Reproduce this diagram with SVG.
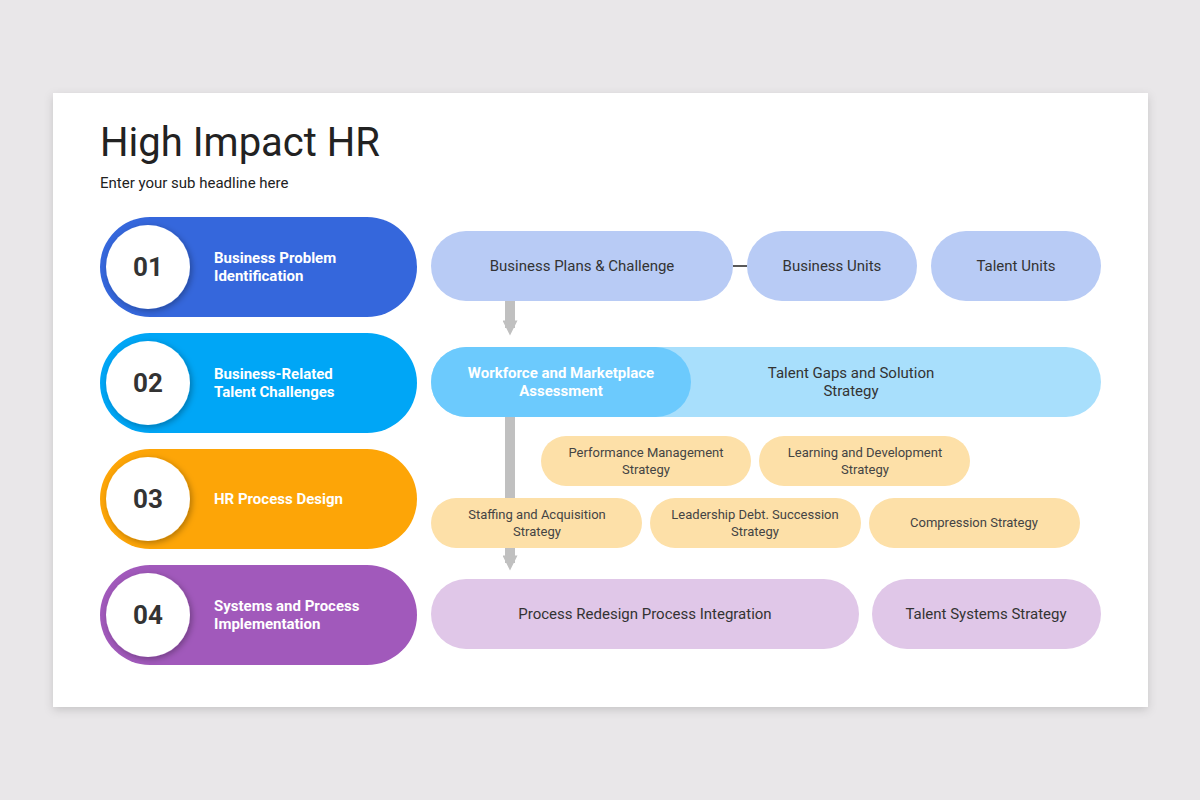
<svg xmlns="http://www.w3.org/2000/svg" width="1200" height="800" viewBox="0 0 1200 800">
<defs>
<filter id="sh" x="-10%" y="-10%" width="120%" height="130%"><feDropShadow dx="0" dy="3" stdDeviation="5" flood-color="#000" flood-opacity="0.15"/></filter>
<filter id="cs" x="-30%" y="-30%" width="160%" height="160%"><feDropShadow dx="2" dy="2" stdDeviation="3" flood-color="#000" flood-opacity="0.3"/></filter>
<marker id="ah" viewBox="0 0 10 10" refX="5" refY="5" markerWidth="2" markerHeight="1.5" orient="auto" markerUnits="strokeWidth"><path d="M0,0 L10,5 L0,10z" fill="#c0c0c0"/></marker>
</defs>
<style>
text{font-family:Roboto,"Liberation Sans",sans-serif}
.num{font-size:26px;font-weight:bold;fill:#333;text-anchor:middle}
.lab{font-size:15px;font-weight:bold;fill:#fff}
.t{font-size:15px;fill:#333;text-anchor:middle}
.s{font-size:13px;fill:#444;text-anchor:middle}
.y{fill:#fde0a8}
</style>
<rect width="1200" height="800" fill="#e9e7e9"/>
<rect x="53" y="93" width="1095" height="614" fill="#fff" filter="url(#sh)"/>
<text x="100" y="156" font-size="40" fill="#222">High Impact HR</text>
<text x="100" y="188" font-size="15" fill="#222">Enter your sub headline here</text>

<g id="connectors">
<line x1="733" y1="266" x2="747" y2="266" stroke="#222" stroke-width="1.5"/>
<line x1="510" y1="301" x2="510" y2="328" stroke="#c0c0c0" stroke-width="10" marker-end="url(#ah)"/>
<line x1="510" y1="417" x2="510" y2="563" stroke="#c0c0c0" stroke-width="10" marker-end="url(#ah)"/>
</g>

<g id="step1">
<rect x="100" y="217" width="317" height="100" rx="50" fill="#3567dc"/>
<circle cx="148" cy="267" r="42" fill="#fff" filter="url(#cs)"/>
<text class="num" x="148" y="276">01</text>
<text class="lab" x="214" y="263">Business Problem</text>
<text class="lab" x="214" y="281">Identification</text>
</g>
<g id="step2">
<rect x="100" y="333" width="317" height="100" rx="50" fill="#00a6f6"/>
<circle cx="148" cy="383" r="42" fill="#fff" filter="url(#cs)"/>
<text class="num" x="148" y="392">02</text>
<text class="lab" x="214" y="379">Business-Related</text>
<text class="lab" x="214" y="397">Talent Challenges</text>
</g>
<g id="step3">
<rect x="100" y="449" width="317" height="100" rx="50" fill="#fda507"/>
<circle cx="148" cy="499" r="42" fill="#fff" filter="url(#cs)"/>
<text class="num" x="148" y="508">03</text>
<text class="lab" x="214" y="504">HR Process Design</text>
</g>
<g id="step4">
<rect x="100" y="565" width="317" height="100" rx="50" fill="#a159bb"/>
<circle cx="148" cy="615" r="42" fill="#fff" filter="url(#cs)"/>
<text class="num" x="148" y="624">04</text>
<text class="lab" x="214" y="611">Systems and Process</text>
<text class="lab" x="214" y="629">Implementation</text>
</g>

<g id="plans"><rect x="431" y="231" width="302" height="70" rx="35" fill="#b8cbf5"/><text class="t" x="582" y="271">Business Plans &amp; Challenge</text></g>
<g id="units"><rect x="747" y="231" width="170" height="70" rx="35" fill="#b8cbf5"/><text class="t" x="832" y="271">Business Units</text></g>
<g id="talentunits"><rect x="931" y="231" width="170" height="70" rx="35" fill="#b8cbf5"/><text class="t" x="1016" y="271">Talent Units</text></g>

<g id="gaps"><rect x="431" y="347" width="670" height="70" rx="35" fill="#a8dffc"/><text class="t" x="851" y="378">Talent Gaps and Solution</text><text class="t" x="851" y="396">Strategy</text></g>
<g id="workforce"><rect x="431" y="347" width="260" height="70" rx="35" fill="#6ccafd"/><text class="t" x="561" y="378" fill="#fff" font-weight="bold" style="fill:#fff">Workforce and Marketplace</text><text class="t" x="561" y="396" font-weight="bold" style="fill:#fff">Assessment</text></g>

<g id="perf"><rect class="y" x="541" y="436" width="210" height="50" rx="25"/><text class="s" x="646" y="457">Performance Management</text><text class="s" x="646" y="474">Strategy</text></g>
<g id="learn"><rect class="y" x="759" y="436" width="211" height="50" rx="25"/><text class="s" x="865" y="457">Learning and Development</text><text class="s" x="865" y="474">Strategy</text></g>
<g id="staff"><rect class="y" x="431" y="498" width="211" height="50" rx="25"/><text class="s" x="537" y="519">Staffing and Acquisition</text><text class="s" x="537" y="536">Strategy</text></g>
<g id="lead"><rect class="y" x="650" y="498" width="211" height="50" rx="25"/><text class="s" x="755" y="519">Leadership Debt. Succession</text><text class="s" x="755" y="536">Strategy</text></g>
<g id="comp"><rect class="y" x="869" y="498" width="211" height="50" rx="25"/><text class="s" x="974" y="527">Compression Strategy</text></g>

<g id="redesign"><rect x="431" y="579" width="428" height="70" rx="35" fill="#e0c7e8"/><text class="t" x="645" y="619">Process Redesign Process Integration</text></g>
<g id="systems"><rect x="872" y="579" width="229" height="70" rx="35" fill="#e0c7e8"/><text class="t" x="986" y="619">Talent Systems Strategy</text></g>
</svg>
